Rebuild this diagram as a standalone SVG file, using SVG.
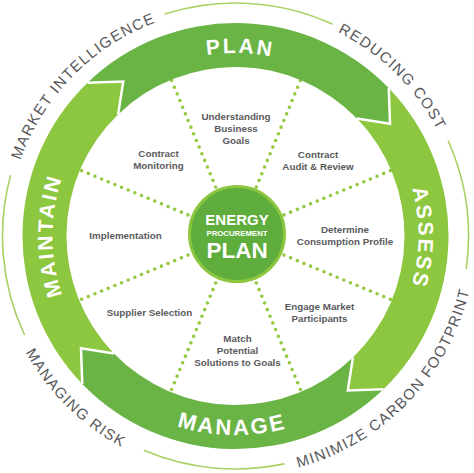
<svg xmlns="http://www.w3.org/2000/svg" width="474" height="473" viewBox="0 0 474 473">
<style>
.dark{fill:#6ab446}
.light{fill:#8dc63f}
.seam{fill:none;stroke:#fff;stroke-width:2.5;stroke-linejoin:miter}
.band{font-family:"Liberation Sans",Arial,sans-serif;font-weight:bold;font-size:21px;fill:#fff;letter-spacing:2.4px}
.outer{font-family:"Liberation Sans",Arial,sans-serif;font-size:15px;fill:#58585a;letter-spacing:1.3px}
.lbl{font-family:"Liberation Sans",Arial,sans-serif;font-weight:bold;font-size:9.8px;fill:#5b5b5d;text-anchor:middle}
.spoke{fill:none;stroke:#94c840;stroke-width:3.6;stroke-linecap:round;stroke-dasharray:0 7.2}
.ring{fill:none;stroke:#a8d164;stroke-width:1.6;stroke-linecap:round}
.ctr{font-family:"Liberation Sans",Arial,sans-serif;font-weight:bold;fill:#fff;text-anchor:middle}
</style>
<defs>
<path id="pPlan" d="M121.33,92.99 A183,183 0 0 1 356.52,98.73"/>
<path id="pAssess" d="M376.70,119.59 A183,183 0 0 1 374.65,354.84"/>
<path id="pMaintain" d="M95.32,353.63 A183,183 0 0 1 95.32,118.37"/>
<path id="pManage" d="M104.94,386.19 A199,199 0 0 0 360.73,390.65"/>
<path id="pMarket" d="M7.51,237.99 A228,228 0 0 1 233.51,8.01"/>
<path id="pCost" d="M233.91,8.00 A228,228 0 0 1 463.50,234.41"/>
<path id="pRisk" d="M-4.49,237.68 A240,240 0 0 0 237.18,475.99"/>
<path id="pCarbon" d="M240.11,475.96 A240,240 0 0 0 475.46,231.39"/>
</defs>

<g id="outer-ring">
<path class="ring" d="M165.43,13.79 A233,233 0 0 1 332.13,23.97"/>
<path class="ring" d="M448.35,141.24 A233,233 0 0 1 466.23,268.43"/>
<path class="ring" d="M283.94,463.90 A233,233 0 0 1 144.47,450.48"/>
<path class="ring" d="M24.33,334.47 A233,233 0 0 1 10.44,175.70"/>
</g>

<g id="outer-labels">
<text class="outer"><textPath href="#pMarket" startOffset="79.2">MARKET</textPath></text>
<text class="outer"><textPath href="#pMarket" startOffset="155">INTELLIGENCE</textPath></text>
<text class="outer" text-anchor="middle"><textPath href="#pCost" startOffset="50%">REDUCING COST</textPath></text>
<text class="outer" text-anchor="middle"><textPath href="#pRisk" startOffset="50%">MANAGING RISK</textPath></text>
<text class="outer"><textPath href="#pCarbon" startOffset="58.9">MINIMIZE</textPath></text>
<text class="outer"><textPath href="#pCarbon" startOffset="142.3">CARBON</textPath></text>
<text class="outer"><textPath href="#pCarbon" startOffset="219.7">FOOTPRINT</textPath></text>
</g>

<g id="connectors">
<line class="spoke" x1="284.0" y1="214.9" x2="391.2" y2="170.3"/>
<line class="spoke" x1="284.0" y1="255.1" x2="391.2" y2="299.7"/>
<line class="spoke" x1="256.3" y1="283.0" x2="300.7" y2="390.2"/>
<line class="spoke" x1="215.7" y1="283.0" x2="171.3" y2="390.2"/>
<line class="spoke" x1="188.0" y1="255.1" x2="80.8" y2="299.7"/>
<line class="spoke" x1="188.0" y1="214.9" x2="80.8" y2="170.3"/>
<line class="spoke" x1="215.7" y1="187.0" x2="171.3" y2="79.8"/>
<line class="spoke" x1="256.3" y1="187.0" x2="300.7" y2="79.8"/>
</g>

<g id="plan">
<path class="dark" d="M87.54,82.78 A213,213 0 0 1 388.72,88.04 L390.02,123.73 L357.07,118.60 A169,169 0 0 0 118.10,114.43 L123.23,81.48 Z"/>
<text class="band" text-anchor="middle"><textPath href="#pPlan" startOffset="50%">PLAN</textPath></text>
</g>
<g id="assess">
<path class="light" d="M388.72,88.04 A213,213 0 0 1 383.46,389.22 L347.77,390.52 L352.90,357.57 A169,169 0 0 0 357.07,118.60 L390.02,123.73 Z"/>
<text class="band" text-anchor="middle"><textPath href="#pAssess" startOffset="50%">ASSESS</textPath></text>
</g>
<g id="manage">
<path class="dark" d="M383.46,389.22 A213,213 0 0 1 82.28,383.96 L80.98,348.27 L113.93,353.40 A169,169 0 0 0 352.90,357.57 L347.77,390.52 Z"/>
<text class="band" style="font-size:22px" text-anchor="middle"><textPath href="#pManage" startOffset="50%">MANAGE</textPath></text>
</g>
<g id="maintain">
<path class="light" d="M82.28,383.96 A213,213 0 0 1 87.54,82.78 L123.23,81.48 L118.10,114.43 A169,169 0 0 0 113.93,353.40 L80.98,348.27 Z"/>
<text class="band" text-anchor="middle"><textPath href="#pMaintain" startOffset="50%">MAINTAIN</textPath></text>
</g>
<g id="seams">
<polyline class="seam" points="388.72,88.04 390.02,123.73 357.07,118.60"/>
<polyline class="seam" points="383.46,389.22 347.77,390.52 352.90,357.57"/>
<polyline class="seam" points="82.28,383.96 80.98,348.27 113.93,353.40"/>
<polyline class="seam" points="87.54,82.78 123.23,81.48 118.10,114.43"/>
</g>

<g id="center">
<circle cx="237" cy="234" r="47.5" fill="#5fae3d" stroke="#8cc63f" stroke-width="3"/>
<text class="ctr" x="237" y="225" font-size="15">ENERGY</text>
<text class="ctr" x="237" y="235.5" font-size="7.8">PROCUREMENT</text>
<text class="ctr" x="237" y="258" font-size="22.5">PLAN</text>
</g>

<g id="n-goals"><text class="lbl" x="236" y="119.5">Understanding</text><text class="lbl" x="236" y="131.5">Business</text><text class="lbl" x="236" y="143.5">Goals</text></g>
<g id="n-audit"><text class="lbl" x="318" y="158">Contract</text><text class="lbl" x="318" y="170">Audit &amp; Review</text></g>
<g id="n-profile"><text class="lbl" x="345" y="233">Determine</text><text class="lbl" x="345" y="245">Consumption Profile</text></g>
<g id="n-engage"><text class="lbl" x="319.5" y="309.5">Engage Market</text><text class="lbl" x="319.5" y="321.5">Participants</text></g>
<g id="n-match"><text class="lbl" x="237.5" y="342">Match</text><text class="lbl" x="237.5" y="354">Potential</text><text class="lbl" x="237.5" y="366">Solutions to Goals</text></g>
<g id="n-supplier"><text class="lbl" x="149.5" y="316">Supplier Selection</text></g>
<g id="n-impl"><text class="lbl" x="125.5" y="239">Implementation</text></g>
<g id="n-monitor"><text class="lbl" x="158.5" y="157">Contract</text><text class="lbl" x="158.5" y="169">Monitoring</text></g>
</svg>
